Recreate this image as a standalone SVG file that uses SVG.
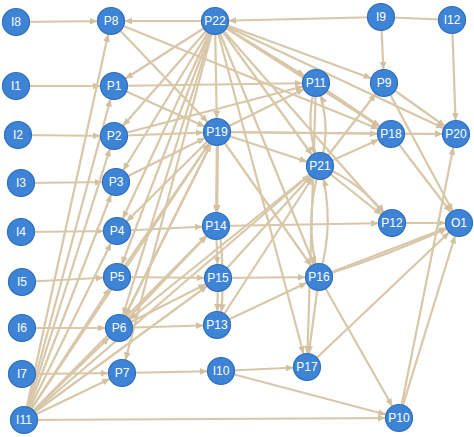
<svg xmlns="http://www.w3.org/2000/svg" width="474" height="437" viewBox="0 0 474 437">
<defs>
<style>
.e{fill:none;stroke:#d8c7a8;stroke-width:2.2;marker-end:url(#a)}
.nd circle{fill:#3d84d6;stroke:#2f6fbd;stroke-width:1.2}
.nd text{fill:#fff;font-family:"Liberation Sans","DejaVu Sans",sans-serif;font-size:12px;text-anchor:middle;dominant-baseline:central}
</style>
<marker id="a" markerUnits="userSpaceOnUse" markerWidth="8" markerHeight="8" refX="21" refY="0" orient="auto" overflow="visible">
<path d="M0,-3.3 L7.5,0 L0,3.3 z" fill="#d3c09e"/>
</marker>
</defs>
<rect width="474" height="437" fill="#fff"/>
<g id="connectors">
<line class="e" x1="16" y1="22" x2="111" y2="21"/>
<line class="e" x1="16" y1="86" x2="114" y2="86"/>
<line class="e" x1="18" y1="135" x2="114" y2="136"/>
<line class="e" x1="21" y1="183" x2="116" y2="182"/>
<line class="e" x1="21" y1="232" x2="117" y2="231"/>
<line class="e" x1="22" y1="282" x2="117" y2="277"/>
<line class="e" x1="22" y1="328" x2="119" y2="328"/>
<line class="e" x1="22" y1="374" x2="122" y2="373"/>
<line class="e" x1="381" y1="17" x2="215" y2="21"/>
<line class="e" x1="381" y1="17" x2="384" y2="83"/>
<line class="e" x1="452" y1="20" x2="456" y2="134"/>
<line class="e" style="marker-end:none" x1="381" y1="17" x2="452" y2="20"/>
<line class="e" x1="24" y1="420" x2="399" y2="418"/>
<line class="e" x1="122" y1="373" x2="221" y2="371"/>
<line class="e" x1="221" y1="371" x2="307" y2="367"/>
<line class="e" x1="221" y1="371" x2="399" y2="418"/>
<line class="e" x1="24" y1="420" x2="111" y2="21"/>
<line class="e" x1="24" y1="420" x2="114" y2="86"/>
<line class="e" x1="24" y1="420" x2="114" y2="136"/>
<line class="e" x1="24" y1="420" x2="116" y2="182"/>
<line class="e" x1="24" y1="420" x2="117" y2="231"/>
<line class="e" x1="24" y1="420" x2="117" y2="277"/>
<line class="e" x1="24" y1="420" x2="119" y2="328"/>
<line class="e" x1="24" y1="420" x2="122" y2="373"/>
<line class="e" x1="24" y1="420" x2="217" y2="132"/>
<line class="e" x1="24" y1="420" x2="216" y2="226"/>
<line class="e" x1="24" y1="420" x2="320" y2="166"/>
<line class="e" x1="24" y1="420" x2="218" y2="278"/>
<line class="e" x1="215" y1="21" x2="111" y2="21"/>
<line class="e" x1="215" y1="21" x2="114" y2="86"/>
<line class="e" x1="215" y1="21" x2="114" y2="136"/>
<line class="e" x1="215" y1="21" x2="116" y2="182"/>
<line class="e" x1="215" y1="21" x2="117" y2="231"/>
<line class="e" x1="215" y1="21" x2="117" y2="277"/>
<line class="e" x1="215" y1="21" x2="119" y2="328"/>
<line class="e" x1="215" y1="21" x2="122" y2="373"/>
<line class="e" x1="215" y1="21" x2="217" y2="132"/>
<line class="e" x1="215" y1="21" x2="316" y2="83"/>
<line class="e" x1="215" y1="21" x2="384" y2="83"/>
<line class="e" x1="215" y1="21" x2="456" y2="134"/>
<line class="e" x1="215" y1="21" x2="391" y2="134"/>
<line class="e" x1="215" y1="21" x2="320" y2="166"/>
<line class="e" x1="215" y1="21" x2="392" y2="223"/>
<line class="e" x1="215" y1="21" x2="319" y2="277"/>
<line class="e" x1="215" y1="21" x2="307" y2="367"/>
<line class="e" x1="111" y1="21" x2="217" y2="132"/>
<line class="e" x1="111" y1="21" x2="391" y2="134"/>
<line class="e" x1="114" y1="86" x2="316" y2="83"/>
<line class="e" x1="114" y1="86" x2="217" y2="132"/>
<line class="e" x1="114" y1="136" x2="217" y2="132"/>
<line class="e" x1="114" y1="136" x2="316" y2="83"/>
<line class="e" x1="116" y1="182" x2="217" y2="132"/>
<line class="e" x1="117" y1="231" x2="216" y2="226"/>
<line class="e" x1="117" y1="277" x2="218" y2="278"/>
<line class="e" x1="117" y1="277" x2="217" y2="132"/>
<line class="e" x1="119" y1="328" x2="217" y2="325"/>
<line class="e" x1="119" y1="328" x2="218" y2="278"/>
<line class="e" x1="119" y1="328" x2="216" y2="226"/>
<line class="e" x1="119" y1="328" x2="217" y2="132"/>
<line class="e" x1="217" y1="325" x2="319" y2="277"/>
<line class="e" x1="217" y1="325" x2="320" y2="166"/>
<line class="e" x1="216" y1="226" x2="392" y2="223"/>
<line class="e" x1="216" y1="226" x2="218" y2="278"/>
<path class="e" d="M219,226 Q226,276 220,325"/>
<line class="e" x1="218" y1="278" x2="319" y2="277"/>
<line class="e" x1="218" y1="278" x2="217" y2="325"/>
<line class="e" x1="218" y1="278" x2="320" y2="166"/>
<line class="e" x1="217" y1="132" x2="316" y2="83"/>
<line class="e" x1="217" y1="132" x2="391" y2="134"/>
<line class="e" x1="217" y1="132" x2="320" y2="166"/>
<line class="e" x1="217" y1="132" x2="216" y2="226"/>
<line class="e" x1="218" y1="132" x2="217" y2="226"/>
<line class="e" x1="217" y1="132" x2="119" y2="328"/>
<line class="e" x1="217" y1="132" x2="117" y2="231"/>
<line class="e" x1="217" y1="132" x2="456" y2="134"/>
<line class="e" x1="217" y1="132" x2="319" y2="277"/>
<line class="e" x1="320" y1="166" x2="391" y2="134"/>
<line class="e" x1="320" y1="166" x2="392" y2="223"/>
<line class="e" x1="320" y1="166" x2="384" y2="83"/>
<line class="e" x1="320" y1="166" x2="119" y2="328"/>
<line class="e" x1="316" y1="83" x2="391" y2="134"/>
<line class="e" x1="316" y1="83" x2="307" y2="367"/>
<path class="e" d="M316,83 Q303,125 320,166"/>
<path class="e" d="M320,166 Q333,125 316,83"/>
<path class="e" d="M320,166 Q303,222 319,277"/>
<path class="e" d="M319,277 Q336,222 320,166"/>
<path class="e" d="M320,166 Q360,180 392,223"/>
<line class="e" x1="319" y1="277" x2="459" y2="223"/>
<path class="e" d="M319,277 Q390,255 459,223"/>
<line class="e" x1="319" y1="277" x2="399" y2="418"/>
<line class="e" x1="319" y1="277" x2="307" y2="367"/>
<line class="e" x1="384" y1="83" x2="456" y2="134"/>
<line class="e" x1="384" y1="83" x2="459" y2="223"/>
<line class="e" x1="391" y1="134" x2="456" y2="134"/>
<line class="e" x1="391" y1="134" x2="459" y2="223"/>
<line class="e" x1="392" y1="223" x2="459" y2="223"/>
<line class="e" x1="399" y1="418" x2="456" y2="134"/>
<line class="e" x1="399" y1="418" x2="459" y2="223"/>
<line class="e" x1="307" y1="367" x2="459" y2="223"/>
</g>
<g id="I8" class="nd"><circle cx="16" cy="22" r="13.5"/><text x="16" y="22">I8</text></g>
<g id="P8" class="nd"><circle cx="111" cy="21" r="13.5"/><text x="111" y="21">P8</text></g>
<g id="P22" class="nd"><circle cx="215" cy="21" r="13.5"/><text x="215" y="21">P22</text></g>
<g id="I9" class="nd"><circle cx="381" cy="17" r="13.5"/><text x="381" y="17">I9</text></g>
<g id="I12" class="nd"><circle cx="452" cy="20" r="13.5"/><text x="452" y="20">I12</text></g>
<g id="I1" class="nd"><circle cx="16" cy="86" r="13.5"/><text x="16" y="86">I1</text></g>
<g id="P1" class="nd"><circle cx="114" cy="86" r="13.5"/><text x="114" y="86">P1</text></g>
<g id="P11" class="nd"><circle cx="316" cy="83" r="13.5"/><text x="316" y="83">P11</text></g>
<g id="P9" class="nd"><circle cx="384" cy="83" r="13.5"/><text x="384" y="83">P9</text></g>
<g id="I2" class="nd"><circle cx="18" cy="135" r="13.5"/><text x="18" y="135">I2</text></g>
<g id="P2" class="nd"><circle cx="114" cy="136" r="13.5"/><text x="114" y="136">P2</text></g>
<g id="P19" class="nd"><circle cx="217" cy="132" r="13.5"/><text x="217" y="132">P19</text></g>
<g id="P18" class="nd"><circle cx="391" cy="134" r="13.5"/><text x="391" y="134">P18</text></g>
<g id="P20" class="nd"><circle cx="456" cy="134" r="13.5"/><text x="456" y="134">P20</text></g>
<g id="I3" class="nd"><circle cx="21" cy="183" r="13.5"/><text x="21" y="183">I3</text></g>
<g id="P3" class="nd"><circle cx="116" cy="182" r="13.5"/><text x="116" y="182">P3</text></g>
<g id="P21" class="nd"><circle cx="320" cy="166" r="13.5"/><text x="320" y="166">P21</text></g>
<g id="I4" class="nd"><circle cx="21" cy="232" r="13.5"/><text x="21" y="232">I4</text></g>
<g id="P4" class="nd"><circle cx="117" cy="231" r="13.5"/><text x="117" y="231">P4</text></g>
<g id="P14" class="nd"><circle cx="216" cy="226" r="13.5"/><text x="216" y="226">P14</text></g>
<g id="P12" class="nd"><circle cx="392" cy="223" r="13.5"/><text x="392" y="223">P12</text></g>
<g id="O1" class="nd"><circle cx="459" cy="223" r="13.5"/><text x="459" y="223">O1</text></g>
<g id="I5" class="nd"><circle cx="22" cy="282" r="13.5"/><text x="22" y="282">I5</text></g>
<g id="P5" class="nd"><circle cx="117" cy="277" r="13.5"/><text x="117" y="277">P5</text></g>
<g id="P15" class="nd"><circle cx="218" cy="278" r="13.5"/><text x="218" y="278">P15</text></g>
<g id="P16" class="nd"><circle cx="319" cy="277" r="13.5"/><text x="319" y="277">P16</text></g>
<g id="I6" class="nd"><circle cx="22" cy="328" r="13.5"/><text x="22" y="328">I6</text></g>
<g id="P6" class="nd"><circle cx="119" cy="328" r="13.5"/><text x="119" y="328">P6</text></g>
<g id="P13" class="nd"><circle cx="217" cy="325" r="13.5"/><text x="217" y="325">P13</text></g>
<g id="I7" class="nd"><circle cx="22" cy="374" r="13.5"/><text x="22" y="374">I7</text></g>
<g id="P7" class="nd"><circle cx="122" cy="373" r="13.5"/><text x="122" y="373">P7</text></g>
<g id="I10" class="nd"><circle cx="221" cy="371" r="13.5"/><text x="221" y="371">I10</text></g>
<g id="P17" class="nd"><circle cx="307" cy="367" r="13.5"/><text x="307" y="367">P17</text></g>
<g id="I11" class="nd"><circle cx="24" cy="420" r="13.5"/><text x="24" y="420">I11</text></g>
<g id="P10" class="nd"><circle cx="399" cy="418" r="13.5"/><text x="399" y="418">P10</text></g>
</svg>
